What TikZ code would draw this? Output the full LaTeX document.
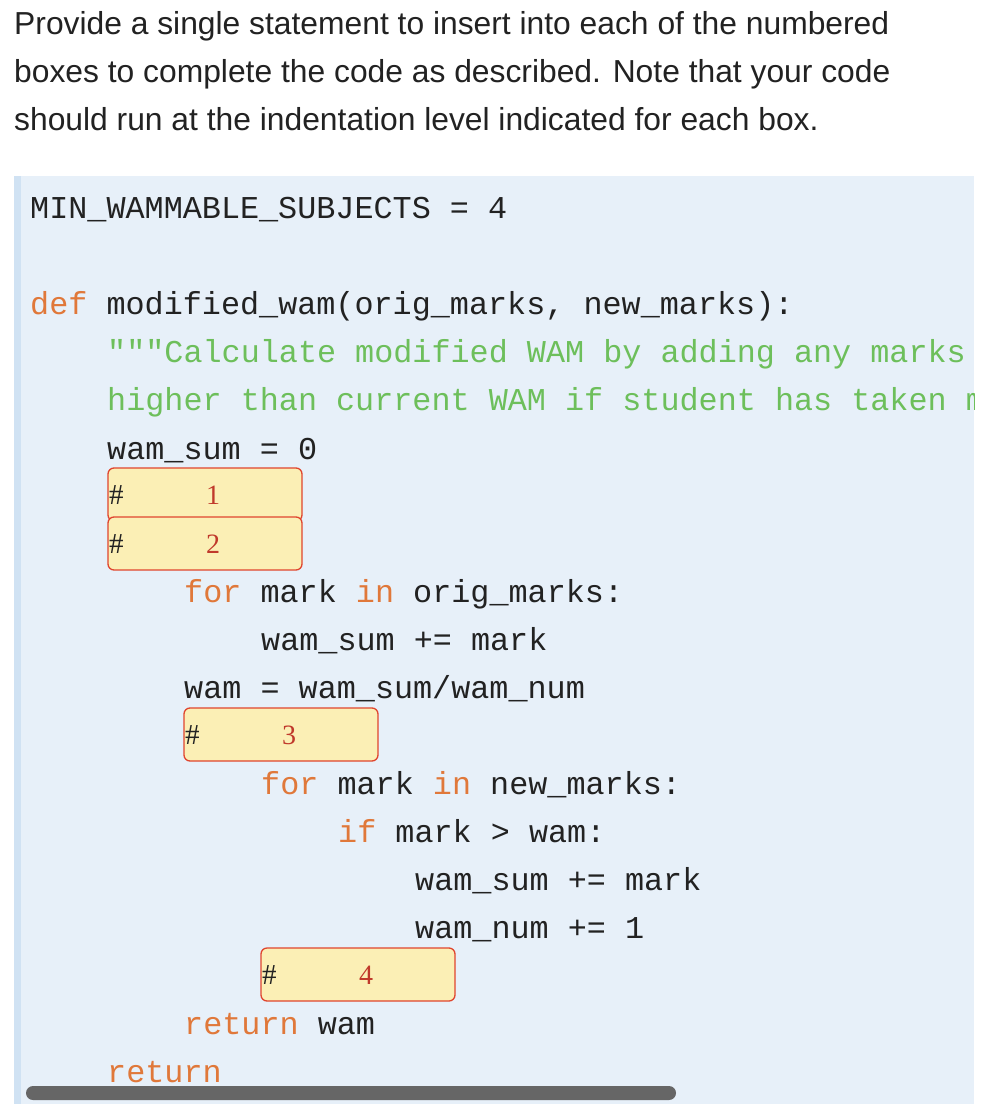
\documentclass[tikz,border=0pt]{standalone}
\usepackage{fontspec}
\setmainfont{Liberation Sans}
\newfontfamily\codefont{Liberation Mono}
\newfontfamily\boxfont{Liberation Serif}
\definecolor{kw}{HTML}{E0783A}
\definecolor{str}{HTML}{6DBF5B}
\definecolor{bg}{HTML}{E7F0F9}
\definecolor{strip}{HTML}{D0E2F3}
\definecolor{boxfill}{HTML}{FBEFB5}
\definecolor{boxline}{HTML}{E0452E}
\definecolor{txt}{HTML}{222222}
\definecolor{numc}{HTML}{C0392B}
\begin{document}
\begin{tikzpicture}[x=1pt,y=-1pt,
  intro/.style={anchor=base west,inner sep=0,font=\fontsize{31.8}{34}\selectfont,text=txt},
  code/.style={anchor=base west,inner sep=0,font=\codefont\fontsize{31.8}{34}\selectfont,text=txt},
  blank/.style={draw=boxline,fill=boxfill,rounded corners=6pt,line width=1.3pt},
  hash/.style={anchor=west,inner sep=0,font=\boxfont\fontsize{29}{30}\selectfont,text=txt},
  num/.style={inner sep=0,font=\boxfont\fontsize{28}{30}\selectfont,text=numc}]
\useasboundingbox (0,0) rectangle (994,1118);
\fill[white] (0,0) rectangle (994,1118);
\node[intro] (t1) at (14,35) {Provide a single statement to insert into each of the numbered};
\node[intro] (t2) at (14,83) {boxes to complete the code as described. Note that your code};
\node[intro] (t3) at (14,131) {should run at the indentation level indicated for each box.};
\fill[bg] (14,176) rectangle (974,1104);
\fill[strip] (14,176) rectangle (21,1104);
\begin{scope}
\clip (14,176) rectangle (974,1104);
\node[code] (l1) at (30,218) {MIN\_WAMMABLE\_SUBJECTS = 4};
\node[code] (l2) at (30,314) {\textcolor{kw}{def} modified\_wam(orig\_marks, new\_marks):};
\node[code,text=str] (l3) at (107,362) {"""Calculate modified WAM by adding any marks in new};
\node[code,text=str] (l4) at (107,410) {higher than current WAM if student has taken more};
\node[code] (l5) at (107,459) {wam\_sum = 0};
\node[code] (l6) at (184,602) {\textcolor{kw}{for} mark \textcolor{kw}{in} orig\_marks:};
\node[code] (l7) at (261,650) {wam\_sum += mark};
\node[code] (l8) at (184,698) {wam = wam\_sum/wam\_num};
\node[code] (l9) at (261,794) {\textcolor{kw}{for} mark \textcolor{kw}{in} new\_marks:};
\node[code] (l10) at (338,842) {\textcolor{kw}{if} mark > wam:};
\node[code] (l11) at (415,890) {wam\_sum += mark};
\node[code] (l12) at (415,938) {wam\_num += 1};
\node[code] (l13) at (184,1034) {\textcolor{kw}{return} wam};
\node[code] (l14) at (107,1082) {\textcolor{kw}{return}};
\end{scope}
\foreach \n/\x/\y in {1/108/468,2/108/517,3/184/708,4/261/948}{
  \draw[blank] (\x,\y) rectangle ++(194,53);
  \node[hash] (h\n) at (\x+1,\y+27) {\#};
  \node[num] (n\n) at (\x+105,\y+27) {\n};
}
\fill[gray!80!black, rounded corners=7pt] (26,1086) rectangle (676,1100);
\end{tikzpicture}
\end{document}
